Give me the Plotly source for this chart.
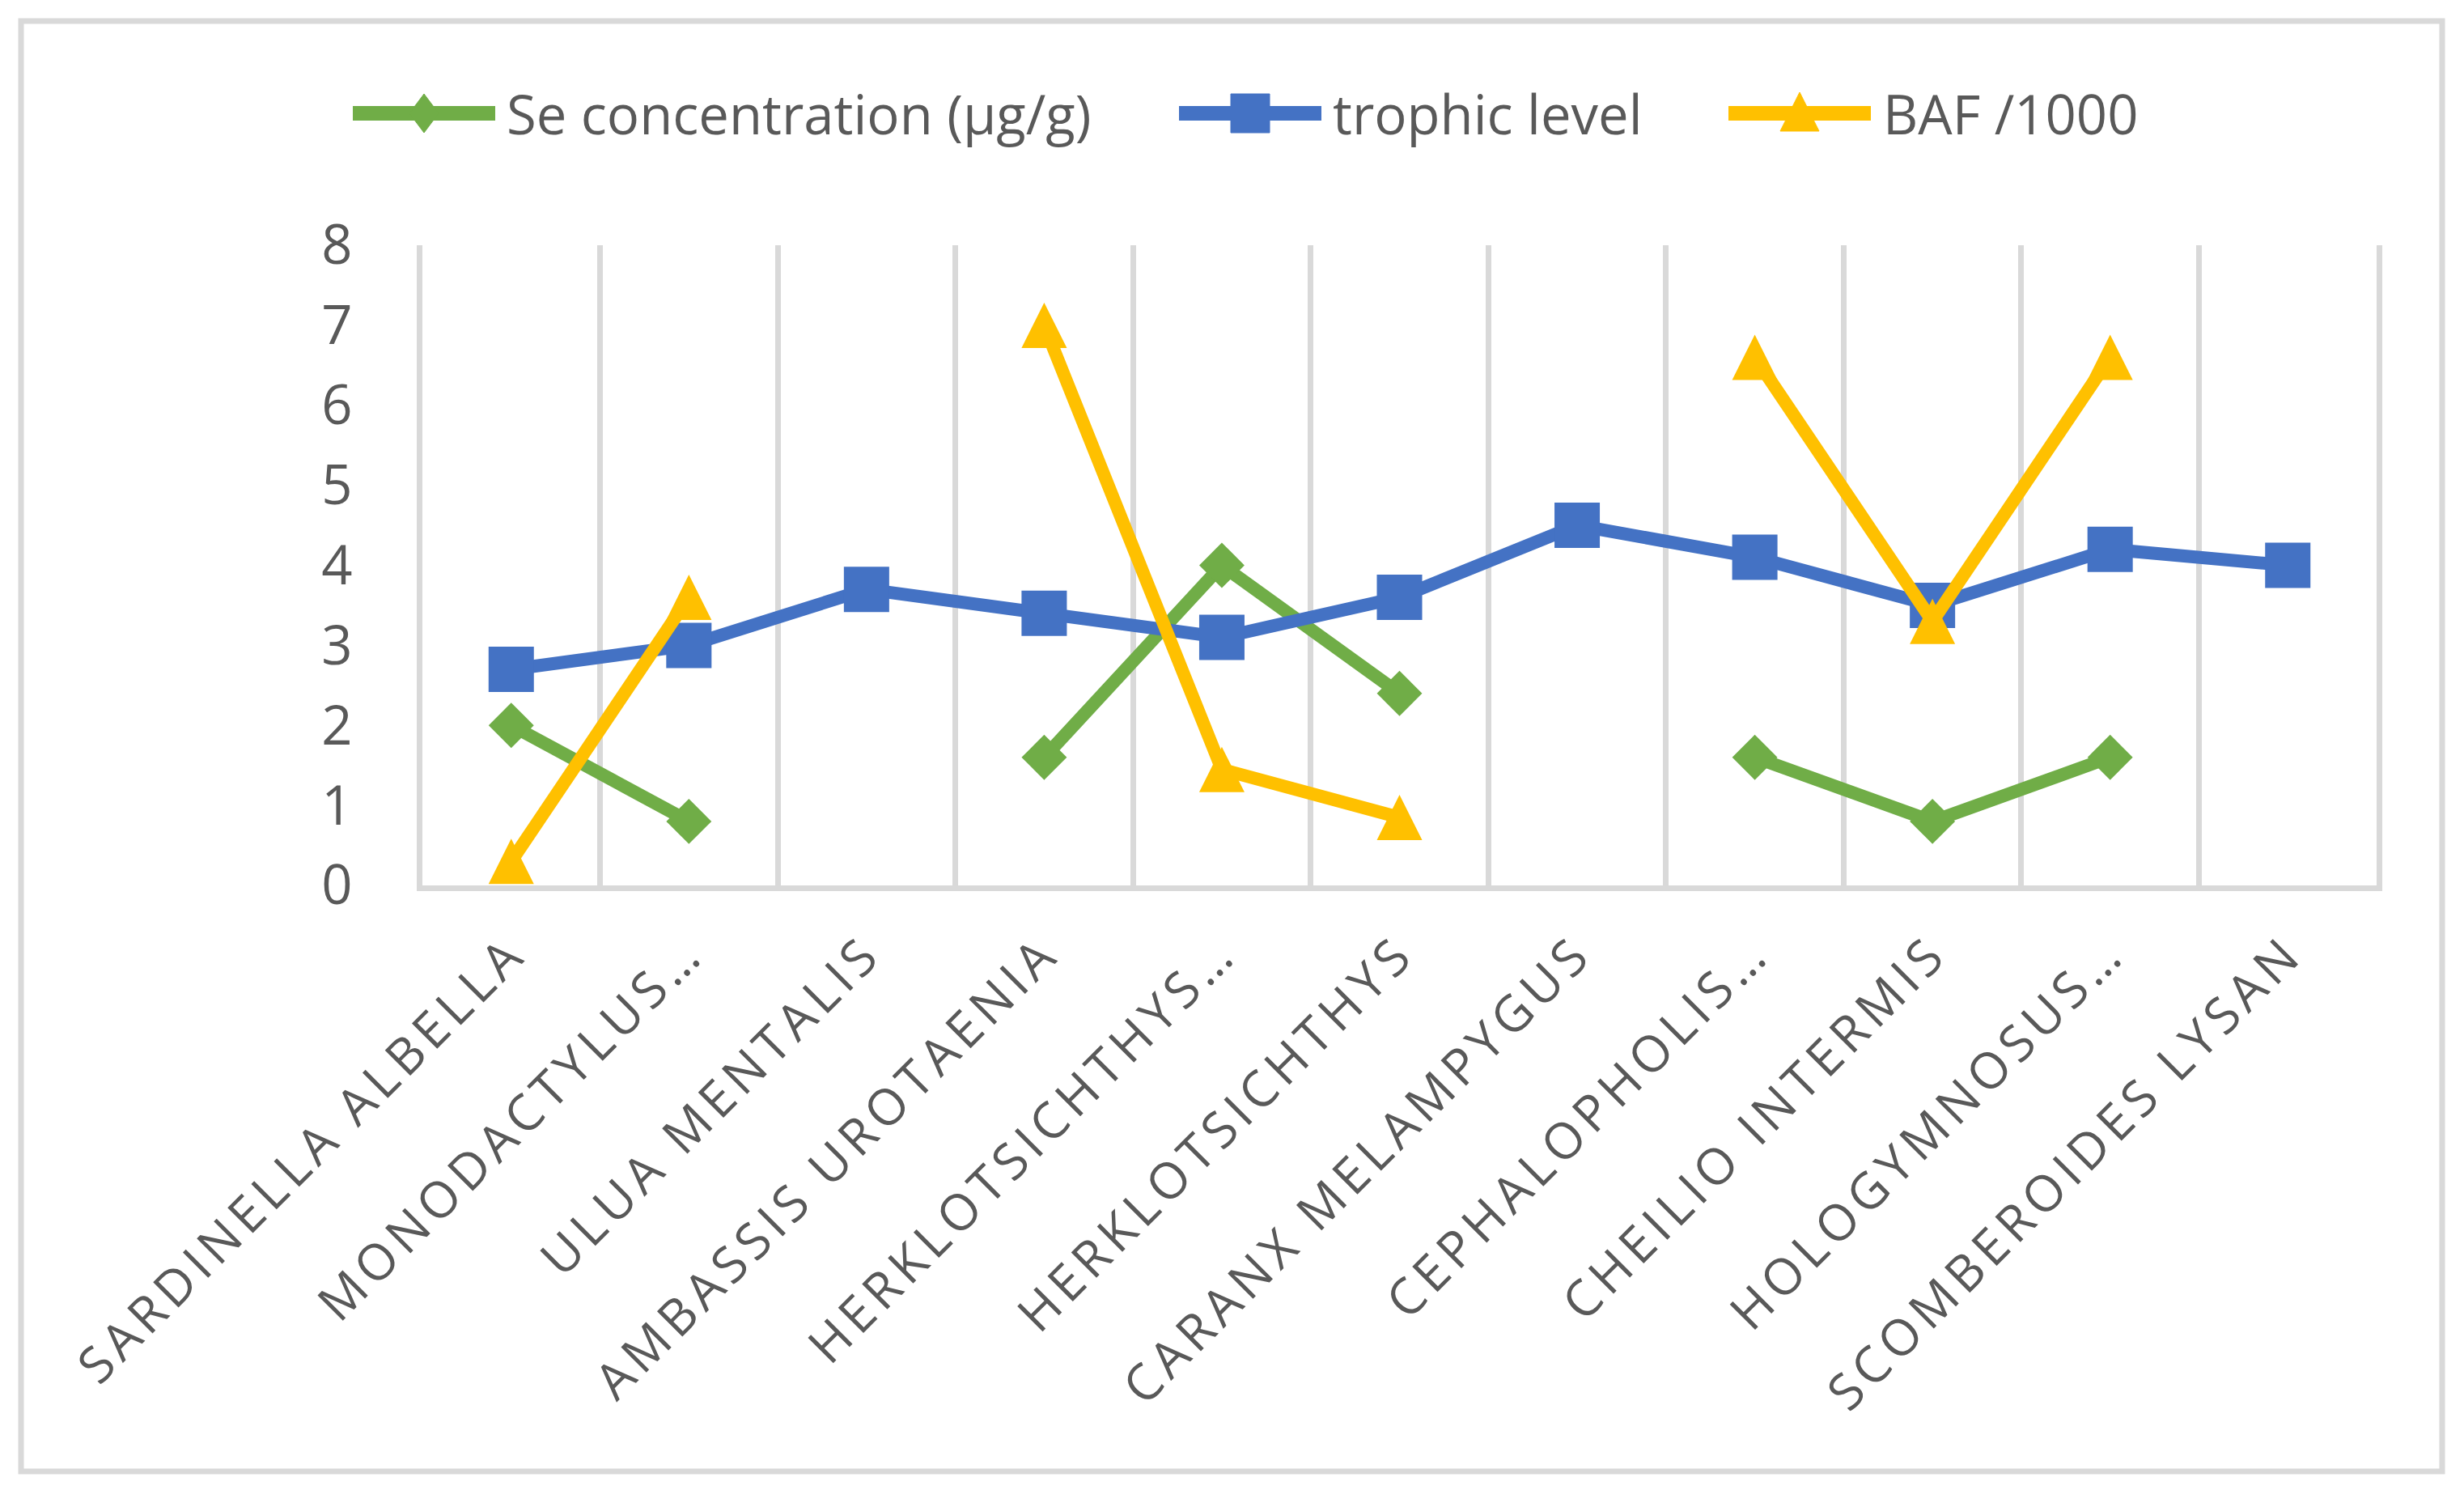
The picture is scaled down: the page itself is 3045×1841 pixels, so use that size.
import plotly.graph_objects as go

# values
species = ["SARDINELLA ALBELLA", "MONODACTYLUS…", "ULUA MENTALIS", "AMBASSIS UROTAENIA",
           "HERKLOTSICHTHYS…", "HERKLOTSICHTHYS", "CARANX MELAMPYGUS", "CEPHALOPHOLIS…",
           "CHEILIO INTERMIS", "HOLOGYMNOSUS…", "SCOMBEROIDES LYSAN"]
se_conc = [2.0, 0.8, None, 1.6, 4.0, 2.4, None, 1.6, 0.8, 1.6, None]
trophic_level = [2.7, 3.0, 3.7, 3.4, 3.1, 3.6, 4.5, 4.1, 3.5, 4.2, 4.0]
baf = [0.3, 3.6, None, 7.0, 1.45, 0.85, None, 6.6, 3.3, 6.6, None]
y_ticks = [0, 1, 2, 3, 4, 5, 6, 7, 8]

series_names = ["Se concentration (µg/g)", "trophic level", "BAF /1000"]
colors = ["#70AD47", "#4472C4", "#FFC000"]
TEXT = "#595959"
GRID = "#D9D9D9"
FONT = "Open Sans"

# page size and plot-area edges (page pixels); the page body adds an 8px margin
PAGE_W, PAGE_H = 3045, 1841
BODY = 8
PLOT_L, PLOT_R, PLOT_T, PLOT_B = 522, 2937, 303, 1094
W, H = PAGE_W - 2 * BODY, PAGE_H - 2 * BODY


def fx(px):
    return (px - PLOT_L) / (PLOT_R - PLOT_L)


def fy(py):
    return (PLOT_B - py) / (PLOT_B - PLOT_T)


fig = go.Figure()

fig.add_trace(go.Scatter(
    x=species, y=se_conc, name=series_names[0], mode="lines+markers",
    line=dict(color=colors[0], width=16),
    marker=dict(symbol="diamond", size=43, color=colors[0]),
))
fig.add_trace(go.Scatter(
    x=species, y=trophic_level, name=series_names[1], mode="lines+markers",
    line=dict(color=colors[1], width=16),
    marker=dict(symbol="square", size=56, color=colors[1]),
))
# arrow-down turned 180 deg and pushed back by half its size -> centred upward triangle
fig.add_trace(go.Scatter(
    x=species, y=baf, name=series_names[2], mode="lines+markers",
    line=dict(color=colors[2], width=16),
    marker=dict(symbol="arrow-down", size=56, angle=180, standoff=28, color=colors[2]),
))

# tick labels with the wide letter spacing of the original
tick_text = ['<span style="letter-spacing:7px">%s</span>' % s for s in species]

fig.update_xaxes(
    type="category", tickmode="array", tickvals=species, ticktext=tick_text,
    range=[-0.5, len(species) - 0.5],
    tickangle=-45, tickson="boundaries", ticks="",
    showgrid=True, gridcolor=GRID, gridwidth=7,
    showline=True, linecolor=GRID, linewidth=7,
    tickfont=dict(family=FONT, size=62, color=TEXT),
    ticklabelstandoff=16,
)
# left/right edge lines stand in for the outer category boundaries
fig.update_yaxes(
    range=[0, 8], tickvals=y_ticks, showgrid=False, zeroline=False,
    showline=True, mirror=True, linecolor=GRID, linewidth=7,
    ticks="", ticklabelstandoff=66,
    tickfont=dict(family=FONT, size=67, color=TEXT),
)

# hand-drawn legend so the symbols can be as large as in the original
legend_items = [
    (series_names[0], colors[0], "M0,24 L18,0 L0,-24 L-18,0 Z", 524, 624),
    (series_names[1], colors[1], "M-24,-24 L24,-24 L24,24 L-24,24 Z", 1545, 1645),
    (series_names[2], colors[2], "M0,26 L24,-22 L-24,-22 Z", 2224, 2325),
]
LEG_Y = 140
shapes = []
annotations = []
for name, col, path, cx, tx in legend_items:
    shapes.append(dict(type="line", xref="paper", yref="paper",
                       xsizemode="pixel", ysizemode="pixel",
                       xanchor=fx(cx), yanchor=fy(LEG_Y),
                       x0=-88, x1=88, y0=0, y1=0,
                       line=dict(color=col, width=18)))
    shapes.append(dict(type="path", xref="paper", yref="paper",
                       xsizemode="pixel", ysizemode="pixel",
                       xanchor=fx(cx), yanchor=fy(LEG_Y), path=path,
                       fillcolor=col, line=dict(color=col, width=1)))
    annotations.append(dict(text=name, xref="paper", yref="paper",
                            x=fx(tx), y=fy(LEG_Y), xanchor="left", yanchor="middle",
                            showarrow=False, font=dict(family=FONT, size=67, color=TEXT)))

# light grey frame around the whole chart
shapes.append(dict(type="rect", xref="paper", yref="paper",
                   x0=fx(26), x1=fx(3018), y0=fy(1818), y1=fy(26),
                   line=dict(color=GRID, width=7), fillcolor="rgba(0,0,0,0)"))

fig.update_layout(
    width=W, height=H,
    margin=dict(l=PLOT_L - BODY, r=W - (PLOT_R - BODY), t=PLOT_T - BODY, b=H - (PLOT_B - BODY)),
    paper_bgcolor="white", plot_bgcolor="white",
    showlegend=False,
    shapes=shapes, annotations=annotations,
    font=dict(family=FONT, color=TEXT),
)

fig.write_html("out.html")
